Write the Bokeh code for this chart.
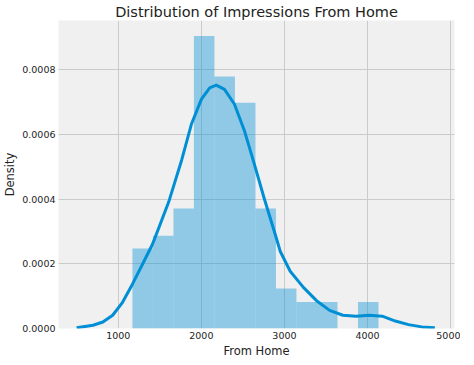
from bokeh.plotting import figure
from bokeh.models import ColumnDataSource, FixedTicker, PrintfTickFormatter, Range1d
from bokeh.embed import file_html
from bokeh.resources import INLINE

# Histogram (density) of "From Home" impressions
bin_edges = [1170, 1417, 1664, 1910, 2157, 2404, 2651, 2898, 3144, 3391, 3638, 3885, 4132]
densities = [0.000247, 0.000287, 0.000371, 0.000904, 0.000779, 0.000698,
             0.000371, 0.000124, 0.000082, 0.000082, 0.0, 0.000082]

# KDE curve
kde_x = [498, 695, 814, 932, 1051, 1170, 1288, 1407, 1447, 1605, 1763, 1882, 2001,
         2100, 2179, 2278, 2397, 2516, 2634, 2753, 2891, 2950, 3069, 3228, 3386,
         3544, 3703, 3861, 4018, 4177, 4335, 4493, 4652, 4810]
kde_y = [0.000002, 0.000010, 0.000020, 0.000041, 0.000081, 0.000137, 0.000197,
         0.000258, 0.000284, 0.000390, 0.000521, 0.000633, 0.000709, 0.000744,
         0.000752, 0.000739, 0.000694, 0.000613, 0.000511, 0.000405, 0.000289,
         0.000238, 0.000177, 0.000127, 0.000086, 0.000056, 0.000041, 0.000038,
         0.000041, 0.000038, 0.000023, 0.000012, 0.000005, 0.000002]

x_ticks = [1000, 2000, 3000, 4000, 5000]
y_ticks = [0.0, 0.0002, 0.0004, 0.0006, 0.0008]

FONT = "DejaVu Sans"
BLUE = "#008fd5"

p = figure(frame_width=396, frame_height=308, output_backend="svg", toolbar_location=None,
           title="Distribution of Impressions From Home",
           x_range=Range1d(280, 5047), y_range=Range1d(0, 0.000952),
           min_border_left=0, min_border_right=6, min_border_top=0, min_border_bottom=0)

hist_src = ColumnDataSource(dict(left=bin_edges[:-1], right=bin_edges[1:],
                                 top=densities, bottom=[0.0] * len(densities)))
p.quad(left="left", right="right", top="top", bottom="bottom", source=hist_src,
       fill_color=BLUE, fill_alpha=0.4, line_color=None)

p.line(kde_x, kde_y, line_color=BLUE, line_width=3, line_join="round")

p.background_fill_color = "#f0f0f0"
p.border_fill_color = "white"
p.outline_line_color = None

p.title.text_font = FONT
p.title.text_font_size = "14.5px"
p.title.text_font_style = "normal"
p.title.align = "center"
p.title.text_color = "#222222"
p.title.standoff = 2

p.xaxis.ticker = FixedTicker(ticks=x_ticks)
p.yaxis.ticker = FixedTicker(ticks=y_ticks)
p.yaxis.formatter = PrintfTickFormatter(format="%.4f")

p.xaxis.axis_label = "From Home"
p.yaxis.axis_label = "Density"
for ax in (p.xaxis, p.yaxis):
    ax.axis_line_color = None
    ax.major_tick_line_color = None
    ax.minor_tick_line_color = None
    ax.major_tick_out = 0
    ax.major_tick_in = 0
    ax.minor_tick_out = 0
    ax.minor_tick_in = 0
    ax.major_label_text_font = FONT
    ax.major_label_text_font_size = "9.5px"
    ax.major_label_text_color = "#222222"
    ax.axis_label_text_font = FONT
    ax.axis_label_text_font_size = "11.5px"
    ax.axis_label_text_font_style = "normal"
    ax.axis_label_text_color = "#222222"
    ax.major_label_standoff = 3
    ax.axis_label_standoff = 2

p.grid.grid_line_color = "#cbcbcb"
p.grid.grid_line_width = 1

open("out.html", "w").write(file_html(p, INLINE))
